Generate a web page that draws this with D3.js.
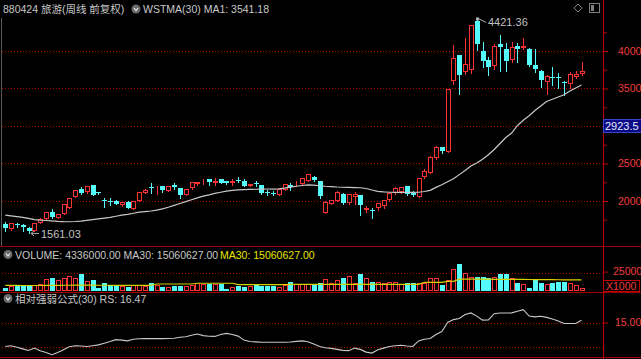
<!DOCTYPE html>
<html><head><meta charset="utf-8">
<script src="https://cdn.jsdelivr.net/npm/d3@7"></script>
<style>html,body{margin:0;padding:0;background:#000;overflow:hidden}svg{display:block}</style>
</head><body><svg id="c" width="641" height="359"></svg>
<script>
// ---- data (weekly bars, 880424 旅游) ----
const opens=[1687,1620,1690,1673,1637,1595,1700,1755,1851,1770,
1820,1900,2050,2149,2110,2207,2110,2010,2000,1995,
1940,1985,1890,2000,2100,2184,2150,2193,2131,2207,
2162,2073,2162,2216,2245,2287,2240,2283,2260,2240,
2275,2260,2193,2230,2207,2118,2104,2073,2140,2207,
2215,2216,2264,2317,2260,1837,1953,1997,2087,1962,
2042,2073,1873,1880,1896,1927,2007,2096,2109,2193,
2104,2051,2309,2370,2563,2709,2643,3593,3940,3717,
3740,4393,3997,3873,3793,4083,4016,3873,4060,4030,
4016,3807,3727,3584,3650,3650,3584,3553,3643,3687];
const highs=[1713,1700,1700,1680,1640,1700,1770,1850,1883,1825,
1960,2035,2145,2184,2195,2210,2120,2040,2030,2010,
1985,1990,2000,2120,2150,2229,2200,2200,2195,2229,
2170,2155,2245,2252,2283,2290,2300,2290,2265,2290,
2309,2283,2220,2260,2210,2140,2125,2150,2225,2240,
2260,2305,2360,2330,2265,1990,2010,2125,2095,2090,
2110,2080,1930,1900,1970,2010,2100,2180,2180,2200,
2130,2300,2420,2590,2725,2715,3490,4070,3945,4160,
4345,4421.36,4117,3913,4087,4207,4096,4117,4100,4163,
4030,4016,3740,3670,3776,3700,3600,3720,3730,3851];
const lows=[1600,1610,1645,1595,1561.03,1590,1695,1750,1770,1765,
1815,1895,2045,2090,2105,2070,2090,1910,1940,1950,
1925,1895,1885,1995,2095,2096,2087,2120,2128,2160,
2037,2070,2160,2210,2215,2207,2207,2230,2225,2210,
2245,2190,2188,2190,2090,2073,2070,2070,2135,2140,
2190,2210,2260,2265,2040,1835,1950,1995,1960,1960,
1953,1810,1850,1770,1870,1900,1990,2090,2100,2070,
2055,2045,2300,2365,2555,2630,2640,3560,3416,3690,
3696,4007,3784,3673,3749,3730,3730,3850,3850,4020,
3800,3717,3517,3416,3540,3496,3407,3496,3630,3680];
const closes=[1629,1696,1680,1643,1593,1696,1760,1843,1776,1820,
1953,2029,2140,2100,2193,2073,2100,2000,1990,1960,
1975,1900,1997,2117,2140,2162,2170,2140,2193,2184,
2073,2153,2243,2250,2258,2245,2255,2237,2230,2255,
2265,2193,2215,2215,2096,2104,2090,2149,2220,2185,
2235,2304,2353,2273,2064,1984,2007,2117,1971,2087,
2087,1940,1896,1870,1963,2007,2096,2162,2176,2082,
2077,2296,2397,2584,2717,2664,3487,3896,3673,3820,
4340,4087,3864,3784,4060,4051,3864,4043,4020,4060,
3807,3749,3607,3660,3630,3630,3563,3687,3683,3727];
const wstma=[1805,1795,1785,1775,1762,1745,1738,1733,1728,1722,
1718,1717,1720,1725,1735,1745,1755,1765,1775,1790,
1805,1815,1830,1845,1852,1860,1872,1888,1910,1935,
1960,1985,2010,2035,2058,2075,2095,2110,2125,2135,
2142,2145,2148,2150,2152,2153,2153,2155,2165,2178,
2190,2200,2207,2205,2197,2190,2185,2180,2177,2175,
2172,2170,2160,2140,2122,2115,2110,2109,2109,2109,
2109,2110,2120,2135,2175,2210,2250,2290,2345,2400,
2460,2500,2550,2610,2680,2760,2840,2900,3000,3070,
3130,3200,3260,3320,3350,3380,3410,3460,3500,3541.18];
const volumes=[3600,6800,6800,6800,6800,8200,10000,15900,17300,15000,
18200,20500,17300,22700,13600,15000,3600,10500,8200,7700,
6800,5500,7700,7700,6800,11400,8200,5900,5900,6800,
6800,6800,8200,11400,10000,9100,9100,9100,2300,5500,
6800,5900,6800,8200,6800,6800,6800,5900,8200,12300,
9100,9100,9100,8200,11400,15900,11400,15000,17300,20500,
11400,23600,17300,12300,12300,11400,12700,12300,10000,10500,
10500,11400,11400,18200,18200,7700,15000,30500,37000,25000,
19500,19500,19500,18200,19500,22700,22700,18200,10500,9100,
3600,15900,10500,9100,11400,12700,12300,10500,8200,4336];
const volMA=[7600,7600,7600,7500,7500,7500,7500,7600,7700,7700,
7800,7800,7900,7900,7900,7900,7800,7800,7800,7700,
7700,7700,7700,7700,7700,7700,9500,9500,9500,9500,
9500,9500,9500,10500,10500,10500,10500,10500,10500,10500,
8600,8600,8600,8600,8600,8600,8600,8600,8600,9100,
9100,9100,9100,9100,9100,9100,9100,9100,9100,9100,
9100,9100,9100,9100,9100,9100,9100,9100,9100,9100,
9100,9100,11800,11800,11800,11800,13000,13000,16000,16000,
16000,16000,16000,16000,15900,15900,15800,15800,15700,15700,
15600,15500,15500,15400,15400,15300,15200,15200,15100,15060];
const rs=[0.0,0.5,-0.5,-1.5,-2.5,-1.0,-2.6,-3.8,-5.1,-3.8,
-2.0,-0.2,0.5,0.3,0.0,0.5,1.0,2.0,3.1,4.3,
4.0,3.5,4.5,4.8,4.9,4.9,4.9,4.9,5.0,5.2,
5.8,6.1,7.0,7.8,6.8,6.4,6.3,7.5,8.2,7.5,
6.5,4.0,3.1,2.9,2.7,2.7,2.7,2.7,2.7,2.8,
3.2,3.5,3.0,1.5,0.0,-0.8,-1.2,-1.8,-2.4,-2.6,
-1.0,-1.8,-3.5,-4.1,-2.0,-1.0,0.0,0.5,0.8,0.3,
0.0,3.5,4.5,5.0,7.5,9.4,15.0,16.8,17.5,20.0,
21.0,19.0,16.5,16.6,20.5,20.9,20.9,21.0,22.0,23.0,
19.0,18.5,18.9,18.2,17.2,16.0,14.4,14.4,14.4,16.47];
const priceTicks=[2000,2500,3500,4000];
const priceGrid=[2000,2500,3000,3500,4000];
const priceMinor=[1750,2250,2750,3250,3750,4250];
const volTicks=[25000];
const rsTicks=[15];
const rsGrid=[0,15];
const titleText="880424 旅游(周线 前复权)";
const maText="WSTMA(30) MA1: 3541.18";
const volText="VOLUME: 4336000.00 MA30: 15060627.00";
const volText2="MA30: 15060627.00";
const rsText="相对强弱公式(30) RS: 16.47";
const cursorText="2923.5";
const cursorLevel=3000;

// ---- drawing ----
const W=641,H=359,AX=603;
const cUp="#ff3232",cDn="#54fcfc",cGrid="#b00000",cAxis="#c00000",cTxt="#c8c8c8",cLbl="#f03c3c";
const FONT="'Liberation Sans',Arial,'Noto Sans CJK SC',sans-serif";
const svg=d3.select("#c");
svg.append("rect").attr("width",W).attr("height",H).attr("fill","#000");

const n=closes.length;
const x=d3.scaleLinear().domain([0,n-1]).range([5.3,581.5]);
const yP=d3.scaleLinear().domain([2000,4000]).range([200.5,50.5]);
const yV=d3.scaleLinear().domain([0,25000]).range([291,272.6]);
const yR=d3.scaleLinear().domain([0,15]).range([346.5,322.5]);
const px=v=>Math.round(v)+0.5;

// grids
function hgrid(y){svg.append("line").attr("x1",2).attr("x2",AX).attr("y1",px(y)).attr("y2",px(y))
  .attr("stroke",cGrid).attr("stroke-dasharray","1,2").attr("shape-rendering","crispEdges");}
priceGrid.forEach(v=>hgrid(yP(v)));
volTicks.forEach(v=>hgrid(yV(v)));
rsGrid.forEach(v=>hgrid(yR(v)));

// panel separators / axis line
[246.5,292.5,357.5].forEach(y=>svg.append("line").attr("x1",0).attr("x2",W).attr("y1",y).attr("y2",y).attr("stroke","#a00000"));
svg.append("line").attr("x1",AX+0.5).attr("x2",AX+0.5).attr("y1",0).attr("y2",H).attr("stroke",cAxis);
svg.append("line").attr("x1",1.5).attr("x2",1.5).attr("y1",18).attr("y2",246).attr("stroke","#5a5a5a");

// axes
function styleAxis(sel){sel.select(".domain").remove();sel.selectAll(".tick line").attr("stroke",cAxis);
  sel.selectAll("text").attr("fill",cLbl).attr("font-family",FONT).attr("font-size","10.5px");}
svg.append("g").attr("transform",`translate(${AX+1},0.5)`)
  .call(d3.axisRight(yP).tickValues(priceMinor).tickSize(3).tickFormat(""))
  .call(styleAxis);
svg.append("g").attr("transform",`translate(${AX+1},0.5)`)
  .call(d3.axisRight(yP).tickValues(priceTicks).tickSize(4).tickPadding(10).tickFormat(d3.format("d")))
  .call(styleAxis);
svg.append("g").attr("transform",`translate(${AX+1},-1)`)
  .call(d3.axisRight(yV).tickValues(volTicks).tickSize(4).tickPadding(5).tickFormat(d3.format("d")))
  .call(styleAxis);
svg.append("g").attr("transform",`translate(${AX+1},0)`)
  .call(d3.axisRight(yR).tickValues(rsTicks).tickSize(4).tickPadding(7).tickFormat(d3.format(".2f")))
  .call(styleAxis);

// X1000 box
svg.append("rect").attr("x",AX+0.5).attr("y",280.5).attr("width",36).attr("height",11).attr("fill","none").attr("stroke",cAxis);
svg.append("text").attr("x",AX+3).attr("y",289.5).text("X1000").attr("fill",cLbl).attr("font-family",FONT).attr("font-size","10.5px");

// cursor value box
const cy=Math.round(yP(cursorLevel));
svg.append("rect").attr("x",AX+0.5).attr("y",cy-6.5).attr("width",38).attr("height",13).attr("fill","#0a0a84").attr("stroke","#3a46c8");
svg.append("text").attr("x",AX+2).attr("y",cy+4).text(cursorText).attr("fill","#e8e8ff").attr("font-family",FONT).attr("font-size","11px");

// candles
const cg=svg.append("g");
for(let i=0;i<n;i++){
  const cx=Math.round(x(i)), up=closes[i]>=opens[i], col=up?cUp:cDn;
  const yH=Math.round(yP(highs[i])), yL=Math.round(yP(lows[i]));
  const yT=Math.round(yP(Math.max(opens[i],closes[i]))), yB=Math.max(Math.round(yP(Math.min(opens[i],closes[i]))),yT+1);
  cg.append("line").attr("x1",cx+0.5).attr("x2",cx+0.5).attr("y1",yH).attr("y2",yL+1).attr("stroke",col);
  if(up){
    cg.append("rect").attr("x",cx-1.5).attr("y",yT+0.5).attr("width",4).attr("height",Math.max(yB-yT-1,0))
      .attr("fill","#000").attr("stroke",col);
  } else {
    cg.append("rect").attr("x",cx-2).attr("y",yT).attr("width",5).attr("height",yB-yT).attr("fill",col);
  }
}
// MA line
svg.append("path").datum(wstma).attr("fill","none").attr("stroke","#c8c8c8").attr("stroke-width",1.2)
  .attr("d",d3.line().x((d,i)=>x(i)).y(d=>yP(d)));

// high / low markers
const hi=d3.maxIndex(highs), lo=d3.minIndex(lows);
const hx=Math.round(x(hi)), hy=yP(highs[hi]);
svg.append("rect").attr("x",hx-1).attr("y",hy-1.5).attr("width",3).attr("height",3).attr("fill","#b0b0b0");
svg.append("path").attr("d",`M${hx+2},${hy}L${hx+9},${hy+3.5}`).attr("stroke","#b0b0b0").attr("fill","none");
svg.append("text").attr("x",hx+11).attr("y",hy+7.5).text(d3.format(".2f")(highs[hi])).attr("fill","#c0c0c0").attr("font-family",FONT).attr("font-size","11px");
const lx=Math.round(x(lo)), ly=yP(lows[lo]);
svg.append("path").attr("d",`M${lx+2},${ly}L${lx+10},${ly}M${lx+2},${ly}L${lx+5},${ly-2.5}M${lx+2},${ly}L${lx+5},${ly+2.5}`)
  .attr("stroke","#b0b0b0").attr("fill","none");
svg.append("text").attr("x",lx+12).attr("y",ly+4.5).text(d3.format(".2f")(lows[lo])).attr("fill","#c0c0c0").attr("font-family",FONT).attr("font-size","11px");

// volume bars
const vg=svg.append("g");
for(let i=0;i<n;i++){
  const cx=Math.round(x(i)), up=closes[i]>=opens[i], col=up?cUp:cDn;
  const yt=Math.round(yV(volumes[i])), yb=Math.round(yV(0));
  if(up) vg.append("rect").attr("x",cx-1.5).attr("y",yt+0.5).attr("width",4).attr("height",Math.max(yb-yt-1,0)).attr("fill","none").attr("stroke",col);
  else vg.append("rect").attr("x",cx-2).attr("y",yt).attr("width",5).attr("height",yb-yt).attr("fill",col);
}
svg.append("path").datum(volMA).attr("fill","none").attr("stroke","#d2d200").attr("stroke-width",1.2)
  .attr("d",d3.line().x((d,i)=>x(i)).y(d=>yV(d)));

// RS line
svg.append("path").datum(rs).attr("fill","none").attr("stroke","#c8c8c8").attr("stroke-width",1.1)
  .attr("d",d3.line().x((d,i)=>x(i)).y(d=>yR(d)));

// headers
function icon(cx,cy){svg.append("circle").attr("cx",cx).attr("cy",cy).attr("r",4.5).attr("fill","#6a6a6a");
  svg.append("path").attr("d",`M${cx-2},${cy-1}L${cx},${cy+1.5}L${cx+2},${cy-1}`).attr("stroke","#eee").attr("fill","none").attr("stroke-width",1.2);}
const T=(xx,yy,t,c)=>svg.append("text").attr("x",xx).attr("y",yy).text(t).attr("fill",c).attr("font-family",FONT).attr("font-size","10.5px");
T(3,13,titleText,cTxt);
icon(136,9);
T(143,13,maText,cTxt);
icon(8,254.5);
T(15,258.5,volText,cTxt);
T(220,258.5,volText2,"#e6e600");
icon(8,298.5);
T(15,302.5,rsText,cTxt);

// top-right icons
svg.append("path").attr("d","M574,8L578,4L582,8L578,12Z").attr("stroke","#808080").attr("fill","none");
svg.append("rect").attr("x",589.5).attr("y",3.5).attr("width",10).attr("height",9).attr("stroke","#808080").attr("fill","none");
svg.append("rect").attr("x",591).attr("y",5).attr("width",3).attr("height",6).attr("fill","#808080");
</script></body></html>
